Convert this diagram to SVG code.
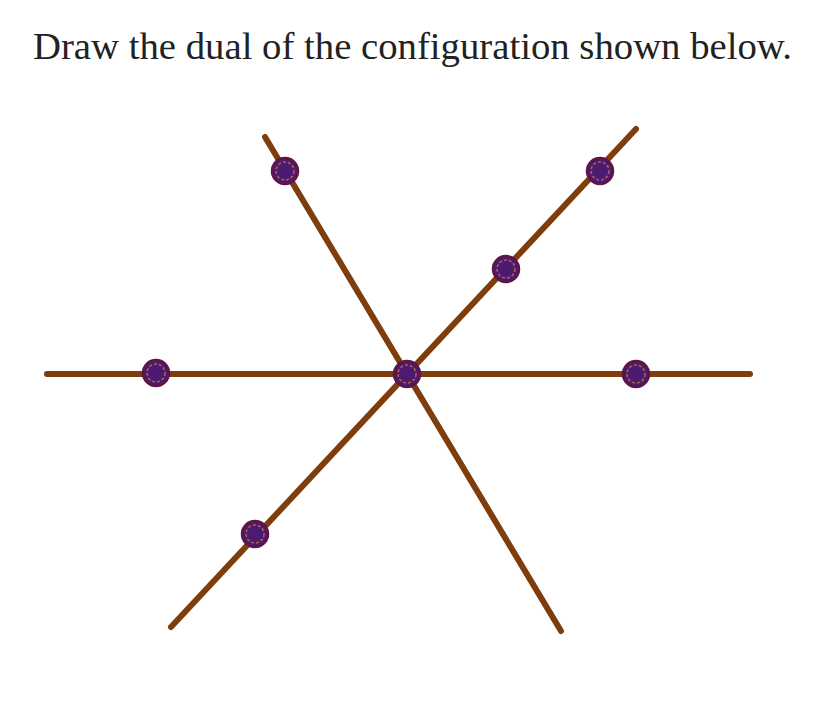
<svg xmlns="http://www.w3.org/2000/svg" width="830" height="710" viewBox="0 0 830 710">
<style>
.ln{stroke:#7d3d0c;stroke-width:6;stroke-linecap:round;fill:none}
.pt{fill:#4d1a72;stroke:#5e1446;stroke-width:2.5}
.ring{fill:none;stroke:#b0683e;stroke-width:1.5;stroke-dasharray:3 2}
.title{font-family:"Liberation Serif","DejaVu Serif",serif;font-size:38px;fill:#222}
</style>
<rect width="830" height="710" fill="#fff"/>
<text class="title" x="33" y="59" textLength="759" lengthAdjust="spacingAndGlyphs">Draw the dual of the configuration shown below.</text>
<g id="connectors">
<line class="ln" x1="47" y1="374" x2="750" y2="374"/>
<line class="ln" x1="265" y1="137" x2="561" y2="631"/>
<line class="ln" x1="636" y1="129" x2="171" y2="627"/>
</g>
<g id="p1"><circle class="pt" cx="285" cy="171" r="13"/><circle class="ring" cx="285" cy="171" r="9"/></g>
<g id="p2"><circle class="pt" cx="600" cy="171" r="13"/><circle class="ring" cx="600" cy="171" r="9"/></g>
<g id="p3"><circle class="pt" cx="506" cy="269" r="13"/><circle class="ring" cx="506" cy="269" r="9"/></g>
<g id="p4"><circle class="pt" cx="407" cy="374" r="13"/><circle class="ring" cx="407" cy="374" r="9"/></g>
<g id="p5"><circle class="pt" cx="156" cy="373" r="13"/><circle class="ring" cx="156" cy="373" r="9"/></g>
<g id="p6"><circle class="pt" cx="636" cy="374" r="13"/><circle class="ring" cx="636" cy="374" r="9"/></g>
<g id="p7"><circle class="pt" cx="255" cy="534" r="13"/><circle class="ring" cx="255" cy="534" r="9"/></g>
</svg>
